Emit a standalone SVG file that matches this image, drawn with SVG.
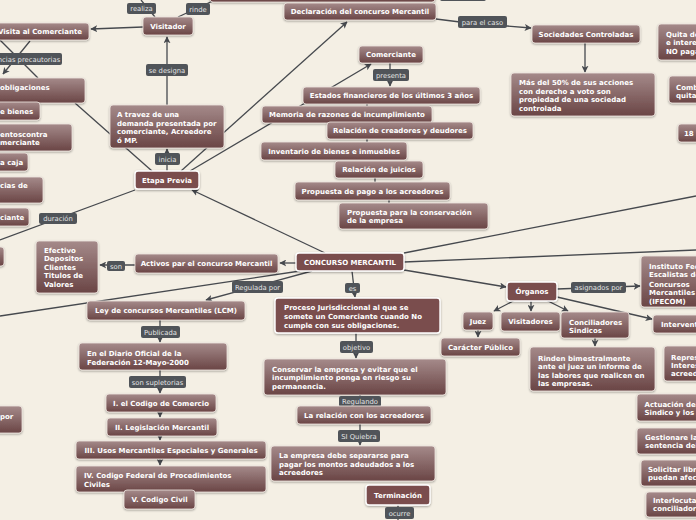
<svg xmlns="http://www.w3.org/2000/svg" width="696" height="520" viewBox="0 0 696 520">
<defs>
<linearGradient id="g" x1="0" y1="0" x2="0" y2="1">
<stop offset="0" stop-color="#a58a8a"/>
<stop offset="1" stop-color="#6a4545"/>
</linearGradient>
<filter id="sh" x="-10%" y="-20%" width="120%" height="160%"><feDropShadow dx="0" dy="1" stdDeviation="0.8" flood-color="#000" flood-opacity="0.35"/></filter>
<marker id="ah" viewBox="0 0 10 10" refX="9" refY="5" markerWidth="7" markerHeight="7" markerUnits="userSpaceOnUse" orient="auto"><path d="M0,0 L10,5 L0,10 L2.5,5 z" fill="#46494e"/></marker>
<style>
.n rect{fill:url(#g);stroke:#efe6e0;stroke-width:0.8;filter:url(#sh)}
.s rect{fill:#7a4d4d;stroke:#ffffff;stroke-width:1.4;filter:url(#sh)}
.n text,.s text{font-family:"DejaVu Sans",Verdana,sans-serif;font-weight:bold;font-size:7px;fill:#ffffff}
.m{text-anchor:middle}
.l rect{fill:#505459;stroke:none}
.l text{font-family:"DejaVu Sans",sans-serif;font-size:6.8px;fill:#e4e4e4;text-anchor:middle}
#conn line,#conn polyline{stroke:#46494e;stroke-width:1.3;fill:none}
</style>
</defs>
<rect width="696" height="520" fill="#f4efe4"/>

<g id="conn">
<polyline points="155,17 141,0"/>
<polyline points="178,17 215,0"/>
<line x1="143" y1="27" x2="91" y2="29" marker-end="url(#ah)"/>
<line x1="167" y1="105" x2="167" y2="37" marker-end="url(#ah)"/>
<line x1="30" y1="41" x2="3" y2="74" marker-end="url(#ah)"/>
<line x1="0" y1="40" x2="38" y2="78"/>
<line x1="167" y1="171" x2="167" y2="149" marker-end="url(#ah)"/>
<line x1="152" y1="171" x2="75" y2="103"/>
<line x1="181" y1="171" x2="347" y2="22" marker-end="url(#ah)"/>
<line x1="190" y1="171" x2="371" y2="64" marker-end="url(#ah)"/>
<line x1="135" y1="190" x2="0" y2="240"/>
<line x1="325" y1="253" x2="192" y2="190" marker-end="url(#ah)"/>
<line x1="296" y1="263" x2="280" y2="263" marker-end="url(#ah)"/>
<line x1="135" y1="265" x2="100" y2="265" marker-end="url(#ah)"/>
<line x1="300" y1="271" x2="0" y2="316"/>
<line x1="312" y1="271" x2="206" y2="300" marker-end="url(#ah)"/>
<line x1="160" y1="320" x2="160" y2="342" marker-end="url(#ah)"/>
<line x1="160" y1="370" x2="160" y2="393" marker-end="url(#ah)"/>
<line x1="160" y1="412" x2="160" y2="417" marker-end="url(#ah)"/>
<line x1="160" y1="436" x2="160" y2="440" marker-end="url(#ah)"/>
<line x1="160" y1="459" x2="160" y2="465" marker-end="url(#ah)"/>
<line x1="352" y1="271" x2="355" y2="297" marker-end="url(#ah)"/>
<line x1="356" y1="333" x2="356" y2="358" marker-end="url(#ah)"/>
<line x1="360" y1="395" x2="360" y2="405" marker-end="url(#ah)"/>
<line x1="360" y1="424" x2="360" y2="445" marker-end="url(#ah)"/>
<line x1="398" y1="505" x2="398" y2="520"/>
<line x1="390" y1="63" x2="390" y2="86" marker-end="url(#ah)"/>
<line x1="367" y1="104" x2="367" y2="106"/>
<line x1="367" y1="139" x2="367" y2="142"/>
<line x1="375" y1="178" x2="375" y2="182"/>
<line x1="389" y1="200" x2="389" y2="203"/>
<polyline points="436,19 460,22 531,28" marker-end="url(#ah)"/>
<line x1="585" y1="43" x2="585" y2="72" marker-end="url(#ah)"/>
<line x1="404" y1="253" x2="696" y2="196"/>
<line x1="404" y1="262" x2="696" y2="250"/>
<line x1="404" y1="270" x2="506" y2="287" marker-end="url(#ah)"/>
<line x1="557" y1="289" x2="640" y2="286" marker-end="url(#ah)"/>
<line x1="515" y1="300" x2="494" y2="311" marker-end="url(#ah)"/>
<line x1="531" y1="301" x2="531" y2="311" marker-end="url(#ah)"/>
<line x1="546" y1="300" x2="568" y2="311" marker-end="url(#ah)"/>
<line x1="557" y1="297" x2="652" y2="319" marker-end="url(#ah)"/>
<line x1="478" y1="330" x2="478" y2="337" marker-end="url(#ah)"/>
<line x1="595" y1="338" x2="595" y2="346" marker-end="url(#ah)"/>
</g>

<g id="top-node" class="n"><rect x="210" y="-20" width="225" height="22" rx="3"/></g>
<g id="top-label" class="l"><rect x="440" y="-10" width="46" height="11" rx="2"/></g>
<g id="lbl-realiza" class="l"><rect x="127" y="3" width="29" height="11" rx="2"/><text x="141.5" y="11">realiza</text></g>
<g id="lbl-rinde" class="l"><rect x="186" y="3" width="24" height="12" rx="2"/><text x="198" y="11.5">rinde</text></g>
<g id="visitador" class="n"><rect x="143" y="17" width="50" height="18" rx="3"/><text class="m" x="168" y="28.5">Visitador</text></g>
<g id="visita" class="n"><rect x="-20" y="23" width="109" height="17" rx="3"/><text x="82" y="34" text-anchor="end">Visita al Comerciante</text></g>
<g id="lbl-designa" class="l"><rect x="146" y="64" width="42" height="12" rx="2"/><text x="167" y="72.5">se designa</text></g>
<g id="lbl-precaut" class="l"><rect x="-5" y="53" width="67" height="12" rx="2"/><text x="29" y="61.5">ncias precautorias</text></g>
<g id="obligaciones" class="n"><rect x="-20" y="78" width="105" height="25" rx="3"/><text x="0" y="90">obligaciones</text></g>
<g id="bienes" class="n"><rect x="-20" y="102" width="60" height="18" rx="3"/><text x="0" y="113.5">e bienes</text></g>
<g id="contra" class="n"><rect x="-20" y="124" width="92" height="27" rx="3"/><text x="0" y="136.5">entoscontra</text><text x="0" y="145">merciante</text></g>
<g id="caja" class="n"><rect x="-20" y="153" width="48" height="18" rx="3"/><text x="0" y="164.5">a caja</text></g>
<g id="ciasde" class="n"><rect x="-20" y="177" width="63" height="26" rx="3"/><text x="0" y="187.5">cias de</text></g>
<g id="ciante" class="n"><rect x="-20" y="208" width="49" height="18" rx="3"/><text x="0" y="219.5">ciante</text></g>
<g id="small-left" class="n"><rect x="-20" y="247" width="24" height="19" rx="3"/></g>
<g id="atravez" class="n"><rect x="110" y="105" width="114" height="43" rx="3"/><text x="117" y="117">A travez de una</text><text x="117" y="125.5">demanda presentada por</text><text x="117" y="134">comerciante, Acreedore</text><text x="117" y="142.5">ó MP.</text></g>
<g id="lbl-inicia" class="l"><rect x="155" y="153" width="25" height="12" rx="2"/><text x="167.5" y="161.5">inicia</text></g>
<g id="etapa" class="s"><rect x="135" y="171" width="64" height="18" rx="3"/><text class="m" x="167" y="182.5">Etapa Previa</text></g>
<g id="lbl-duracion" class="l"><rect x="39" y="213" width="38" height="11" rx="2"/><text x="58" y="221">duración</text></g>
<g id="declaracion" class="n"><rect x="284" y="3" width="152" height="17" rx="3"/><text class="m" x="360" y="14">Declaración del concurso Mercantil</text></g>
<g id="comerciante" class="n"><rect x="359" y="46" width="64" height="17" rx="3"/><text class="m" x="391" y="57">Comerciante</text></g>
<g id="lbl-presenta" class="l"><rect x="373" y="69" width="36" height="12" rx="2"/><text x="391" y="77.5">presenta</text></g>
<g id="estados" class="n"><rect x="303" y="87" width="177" height="17" rx="3"/><text class="m" x="391.5" y="98">Estados financieros de los últimos 3 años</text></g>
<g id="memoria" class="n"><rect x="262" y="106" width="170" height="17" rx="3"/><text class="m" x="347" y="117">Memoria de razones de incumplimiento</text></g>
<g id="relacion1" class="n"><rect x="327" y="122" width="146" height="17" rx="3"/><text class="m" x="400" y="133">Relación de creadores y deudores</text></g>
<g id="inventario" class="n"><rect x="261" y="142" width="146" height="18" rx="3"/><text class="m" x="334" y="153.5">Inventario de bienes e inmuebles</text></g>
<g id="juicios" class="n"><rect x="335" y="161" width="88" height="17" rx="3"/><text class="m" x="379" y="172">Relación de juicios</text></g>
<g id="propuesta1" class="n"><rect x="295" y="182" width="155" height="18" rx="3"/><text class="m" x="372.5" y="193.5">Propuesta de pago a los acreedores</text></g>
<g id="propuesta2" class="n"><rect x="339" y="203" width="149" height="26" rx="3"/><text x="347" y="214.8">Propuesta para la conservación</text><text x="347" y="223.2">de la empresa</text></g>
<g id="efectivo" class="n"><rect x="36" y="241" width="62" height="52" rx="3"/><text x="44" y="252.5">Efectivo</text><text x="44" y="261">Depositos</text><text x="44" y="269.5">Clientes</text><text x="44" y="278">Titulos de</text><text x="44" y="286.5">Valores</text></g>
<g id="lbl-son" class="l"><rect x="107" y="261" width="18" height="10" rx="2"/><text x="116" y="268.5">son</text></g>
<g id="activos" class="n"><rect x="135" y="254" width="143" height="19" rx="3"/><text class="m" x="206.5" y="266">Activos par el concurso Mercantil</text></g>
<g id="concurso" class="s"><rect x="296" y="253" width="108" height="18" rx="3"/><text class="m" x="350" y="264.5">CONCURSO MERCANTIL</text></g>
<g id="lbl-regulada" class="l"><rect x="232" y="281" width="51" height="12" rx="2"/><text x="257.5" y="289.5">Regulada por</text></g>
<g id="ley" class="n"><rect x="87" y="301" width="158" height="19" rx="3"/><text class="m" x="166" y="313">Ley de concursos Mercantiles (LCM)</text></g>
<g id="lbl-publicada" class="l"><rect x="141" y="326" width="39" height="12" rx="2"/><text x="160.5" y="334.5">Publicada</text></g>
<g id="diario" class="n"><rect x="79" y="343" width="148" height="27" rx="3"/><text x="87" y="356">En el Diario Oficial de la</text><text x="87" y="364.5">Federación 12-Mayo-2000</text></g>
<g id="lbl-supletorias" class="l"><rect x="129" y="376" width="57" height="12" rx="2"/><text x="157.5" y="384.5">son supletorias</text></g>
<g id="codigo1" class="n"><rect x="106" y="394" width="110" height="18" rx="3"/><text class="m" x="161" y="405.5">I. el Codigo de Comercio</text></g>
<g id="codigo2" class="n"><rect x="107" y="418" width="110" height="18" rx="3"/><text class="m" x="162" y="429.5">II. Legislación Mercantil</text></g>
<g id="codigo3" class="n"><rect x="76" y="441" width="190" height="18" rx="3"/><text class="m" x="171" y="452.5">III. Usos Mercantiles Especiales y Generales</text></g>
<g id="codigo4" class="n"><rect x="76" y="466" width="190" height="26" rx="3"/><text x="84" y="478">IV. Codigo Federal de Procedimientos</text><text x="84" y="486.5">Civiles</text></g>
<g id="codigo5" class="n"><rect x="124" y="490" width="71" height="19" rx="3"/><text class="m" x="159.5" y="502">V. Codigo Civil</text></g>
<g id="por" class="n"><rect x="-20" y="406" width="42" height="27" rx="3"/><text x="0" y="419">por</text></g>
<g id="lbl-es" class="l"><rect x="345" y="283" width="15" height="10" rx="2"/><text x="352.5" y="290.5">es</text></g>
<g id="proceso" class="s"><rect x="275" y="298" width="165" height="35" rx="3"/><text x="284" y="310.2">Proceso Jurisdiccional al que se</text><text x="284" y="319.2">somete un Comerciante cuando No</text><text x="284" y="327.7">cumple con sus obligaciones.</text></g>
<g id="lbl-objetivo" class="l"><rect x="340" y="341" width="33" height="12" rx="2"/><text x="356.5" y="349.5">objetivo</text></g>
<g id="conservar" class="n"><rect x="264" y="359" width="182" height="36" rx="3"/><text x="272" y="371.5">Conservar la empresa y evitar que el</text><text x="272" y="380">incumplimiento ponga en riesgo su</text><text x="272" y="388.5">permanencia.</text></g>
<g id="lbl-regulando" class="l"><rect x="339" y="396" width="42" height="11" rx="2"/><text x="360" y="404">Regulando</text></g>
<g id="relacion2" class="n"><rect x="297" y="406" width="134" height="18" rx="3"/><text class="m" x="364" y="417.5">La relación con los acreedores</text></g>
<g id="lbl-quiebra" class="l"><rect x="338" y="430" width="42" height="12" rx="2"/><text x="359" y="438.5">SI Quiebra</text></g>
<g id="empresa" class="n"><rect x="271" y="446" width="164" height="35" rx="3"/><text x="279" y="458.2">La empresa debe separarse para</text><text x="279" y="466.5">pagar los montos adeudados a los</text><text x="279" y="475">acreedores</text></g>
<g id="terminacion" class="s"><rect x="366" y="485" width="64" height="20" rx="3"/><text class="m" x="398" y="497.5">Terminación</text></g>
<g id="lbl-ocurre" class="l"><rect x="385" y="507" width="29" height="12" rx="2"/><text x="399.5" y="515.5">ocurre</text></g>
<g id="lbl-caso" class="l"><rect x="458" y="16" width="49" height="12" rx="2"/><text x="482.5" y="24.5">para el caso</text></g>
<g id="sociedades" class="n"><rect x="532" y="25" width="108" height="18" rx="3"/><text class="m" x="586" y="36.5">Sociedades Controladas</text></g>
<g id="mas50" class="n"><rect x="511" y="73" width="144" height="43" rx="3"/><text x="519" y="85.2">Más del 50% de sus acciones</text><text x="519" y="93.5">con derecho a voto son</text><text x="519" y="102.2">propiedad de una sociedad</text><text x="519" y="110.5">controlada</text></g>
<g id="quita" class="n"><rect x="658" y="24" width="60" height="36" rx="3"/><text x="666" y="36.5">Quita de la</text><text x="666" y="45">e intereses</text><text x="666" y="53.5">NO pagados</text></g>
<g id="comb" class="n"><rect x="669" y="76" width="40" height="27" rx="3"/><text x="676" y="89.8">Combinación</text><text x="676" y="97.8">quitas</text></g>
<g id="n18" class="n"><rect x="678" y="124" width="30" height="18" rx="3"/><text x="684" y="136">18</text></g>
<g id="organos" class="s"><rect x="507" y="282" width="50" height="19" rx="3"/><text class="m" x="532" y="294">Órganos</text></g>
<g id="lbl-asignados" class="l"><rect x="571" y="282" width="55" height="11" rx="2"/><text x="598.5" y="290">asignados por</text></g>
<g id="instituto" class="n"><rect x="641" y="256" width="70" height="51" rx="3"/><text x="649" y="268.5">Instituto Federal</text><text x="649" y="277.2">Escalistas de</text><text x="649" y="286.5">Concursos</text><text x="649" y="295.2">Mercantiles</text><text x="649" y="303.5">(IFECOM)</text></g>
<g id="juez" class="n"><rect x="463" y="312" width="30" height="18" rx="3"/><text class="m" x="478" y="323.5">Juez</text></g>
<g id="visitadores" class="n"><rect x="501" y="312" width="59" height="19" rx="3"/><text class="m" x="530.5" y="324">Visitadores</text></g>
<g id="conciliadores" class="n"><rect x="561" y="312" width="68" height="26" rx="3"/><text x="569" y="324.5">Conciliadores</text><text x="569" y="332.7">Sindicos</text></g>
<g id="caracter" class="n"><rect x="441" y="338" width="79" height="18" rx="3"/><text class="m" x="480.5" y="349.5">Carácter Público</text></g>
<g id="interventores" class="n"><rect x="653" y="315" width="60" height="18" rx="3"/><text x="661" y="326.5">Interventores</text></g>
<g id="rinden" class="n"><rect x="530" y="347" width="125" height="44" rx="3"/><text x="538" y="360.5">Rinden bimestralmente</text><text x="538" y="369">ante el juez un informe de</text><text x="538" y="377.5">las labores que realicen en</text><text x="538" y="385.7">las empresas.</text></g>
<g id="repres" class="n"><rect x="664" y="346" width="50" height="35" rx="3"/><text x="671" y="359.5">Representar</text><text x="671" y="367.7">Intereses</text><text x="671" y="375.9">acreedores</text></g>
<g id="actuacion" class="n"><rect x="637" y="394" width="70" height="27" rx="3"/><text x="644.5" y="406.5">Actuación del</text><text x="644.5" y="415">Sindico y los</text></g>
<g id="gestionare" class="n"><rect x="637" y="428" width="70" height="26" rx="3"/><text x="645" y="439.7">Gestionare la</text><text x="645" y="448">sentencia del</text></g>
<g id="solicitar" class="n"><rect x="641" y="460" width="70" height="26" rx="3"/><text x="648" y="471.7">Solicitar libramientos</text><text x="648" y="480">puedan afectar</text></g>
<g id="interlocutar" class="n"><rect x="646" y="492" width="70" height="25" rx="3"/><text x="653" y="502.7">Interlocutar</text><text x="653" y="511">conciliador</text></g>
</svg>
